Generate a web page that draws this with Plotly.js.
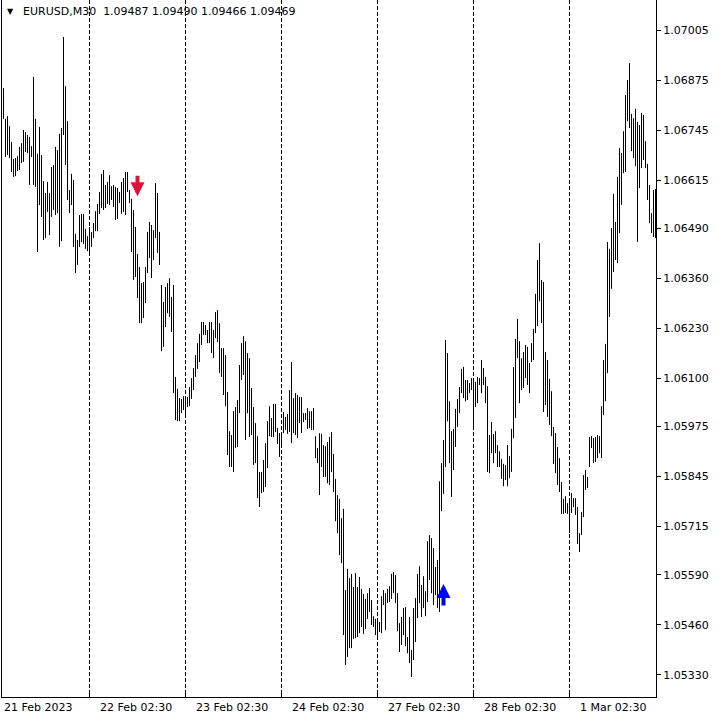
<!DOCTYPE html>
<html>
<head>
<meta charset="utf-8">
<script src="https://cdn.plot.ly/plotly-3.0.1.min.js"></script>
<style>html,body{margin:0;padding:0;background:#fff;}#chart{width:720px;height:720px;}</style>
</head>
<body>
<div id="chart"></div>
<script>
// EURUSD M30 bars (high / low), one entry per bar, left to right
const highs = [
1.06855,1.06775,1.06782,1.06756,1.06715,1.06671,1.06673,1.06678,1.06702,1.06712,
1.06746,1.06741,1.06733,1.06728,1.06704,1.06884,1.06775,1.06684,1.06754,1.06681,
1.06613,1.06582,1.06611,1.06582,1.06650,1.06655,1.06702,1.06694,1.06736,1.06751,
1.06988,1.06860,1.06769,1.06590,1.06632,1.06616,1.06476,1.06460,1.06525,1.06528,
1.06528,1.06489,1.06470,1.06494,1.06481,1.06504,1.06535,1.06554,1.06585,1.06632,
1.06642,1.06603,1.06611,1.06629,1.06600,1.06603,1.06598,1.06595,1.06585,1.06611,
1.06621,1.06637,1.06637,1.06590,1.06567,1.06538,1.06494,1.06424,1.06390,1.06348,
1.06351,1.06390,1.06481,1.06507,1.06499,1.06486,1.06608,1.06582,1.06481,1.06343,
1.06299,1.06338,1.06348,1.06361,1.06312,1.06343,1.06104,1.06073,1.06049,1.06047,
1.06054,1.06052,1.06052,1.06078,1.06101,1.06127,1.06161,1.06192,1.06216,1.06247,
1.06247,1.06239,1.06226,1.06247,1.06247,1.06226,1.06273,1.06278,1.06244,1.06179,
1.06179,1.06161,1.06065,1.05963,1.05953,1.06015,1.06026,1.06044,1.06135,1.06192,
1.06210,1.06197,1.06166,1.06153,1.06075,1.06026,1.05984,1.05950,1.05857,1.05857,
1.05888,1.05932,1.05989,1.06028,1.05997,1.06034,1.06034,1.05971,1.05958,1.05958,
1.06013,1.06000,1.06008,1.06070,1.06143,1.06049,1.06062,1.06057,1.06052,1.06052,
1.06010,1.06010,1.06023,1.06015,1.06015,1.06023,1.05950,1.05919,1.05958,1.05956,
1.05927,1.05924,1.05935,1.05948,1.05961,1.05904,1.05839,1.05797,1.05787,1.05737,
1.05761,1.05550,1.05605,1.05581,1.05592,1.05558,1.05594,1.05558,1.05584,1.05553,
1.05540,1.05527,1.05542,1.05555,1.05524,1.05482,1.05475,1.05472,1.05467,1.05534,
1.05550,1.05542,1.05553,1.05560,1.05592,1.05597,1.05589,1.05542,1.05464,1.05480,
1.05503,1.05506,1.05428,1.05480,1.05394,1.05503,1.05529,1.05592,1.05612,1.05563,
1.05586,1.05547,1.05677,1.05693,1.05685,1.05659,1.05610,1.05628,1.05833,1.05880,
1.05940,1.06200,1.06166,1.06041,1.05963,1.05969,1.06021,1.06047,1.06078,1.06125,
1.06130,1.06096,1.06096,1.06088,1.06101,1.06091,1.06091,1.06104,1.06101,1.06148,
1.06127,1.06104,1.06080,1.05953,1.05987,1.05956,1.05963,1.05927,1.05911,1.05891,
1.05878,1.05875,1.05927,1.05898,1.05969,1.06130,1.06203,1.06255,1.06197,1.06153,
1.06169,1.06187,1.06182,1.06140,1.06192,1.06229,1.06320,1.06408,1.06452,1.06356,
1.06351,1.06169,1.06148,1.06099,1.06067,1.05974,1.05958,1.05922,1.05893,1.05831,
1.05787,1.05794,1.05776,1.05787,1.05802,1.05789,1.05789,1.05766,1.05698,1.05753,
1.05849,1.05862,1.05844,1.05948,1.05950,1.05945,1.05948,1.05953,1.05950,1.06028,
1.06148,1.06190,1.06455,1.06437,1.06491,1.06580,1.06507,1.06624,1.06699,1.06686,
1.06743,1.06837,1.06876,1.06920,1.06788,1.06777,1.06801,1.06767,1.06759,1.06790,
1.06785,1.06717,1.06658,1.06603,1.06530,1.06590,1.06593
];
const lows = [
1.06775,1.06676,1.06681,1.06673,1.06637,1.06624,1.06626,1.06639,1.06642,1.06660,
1.06663,1.06689,1.06686,1.06603,1.06676,1.06603,1.06598,1.06429,1.06551,1.06520,
1.06460,1.06465,1.06533,1.06473,1.06520,1.06538,1.06525,1.06530,1.06442,1.06457,
1.06733,1.06655,1.06564,1.06530,1.06551,1.06442,1.06374,1.06395,1.06442,1.06455,
1.06450,1.06437,1.06431,1.06426,1.06442,1.06465,1.06483,1.06483,1.06528,1.06543,
1.06538,1.06543,1.06554,1.06551,1.06564,1.06546,1.06512,1.06515,1.06556,1.06528,
1.06533,1.06525,1.06585,1.06556,1.06429,1.06356,1.06364,1.06309,1.06244,1.06244,
1.06257,1.06296,1.06374,1.06413,1.06361,1.06408,1.06465,1.06426,1.06395,1.06171,
1.06182,1.06234,1.06270,1.06260,1.06221,1.06062,1.05992,1.05989,1.05989,1.06010,
1.06018,1.05997,1.06026,1.06028,1.06047,1.06070,1.06104,1.06125,1.06143,1.06187,
1.06213,1.06213,1.06192,1.06192,1.06166,1.06153,1.06205,1.06195,1.06114,1.06104,
1.06057,1.06028,1.05901,1.05870,1.05870,1.05857,1.05919,1.05922,1.06010,1.06096,
1.06109,1.05940,1.06010,1.05948,1.05953,1.05875,1.05880,1.05789,1.05766,1.05802,
1.05805,1.05818,1.05867,1.05950,1.05948,1.05948,1.05961,1.05930,1.05896,1.05922,
1.05958,1.05966,1.05956,1.05961,1.05932,1.05958,1.05953,1.05945,1.05984,1.05958,
1.05987,1.05992,1.05969,1.05971,1.05966,1.05966,1.05893,1.05880,1.05797,1.05870,
1.05844,1.05844,1.05828,1.05823,1.05857,1.05805,1.05729,1.05698,1.05641,1.05620,
1.05433,1.05355,1.05376,1.05399,1.05399,1.05423,1.05425,1.05428,1.05438,1.05454,
1.05436,1.05449,1.05475,1.05493,1.05459,1.05454,1.05433,1.05420,1.05441,1.05438,
1.05511,1.05446,1.05516,1.05519,1.05527,1.05542,1.05516,1.05443,1.05389,1.05407,
1.05433,1.05404,1.05386,1.05360,1.05324,1.05368,1.05415,1.05477,1.05516,1.05480,
1.05503,1.05482,1.05519,1.05576,1.05542,1.05511,1.05537,1.05503,1.05493,1.05755,
1.05800,1.05870,1.05989,1.05880,1.05792,1.05862,1.05922,1.05974,1.06010,1.06062,
1.06049,1.06041,1.06044,1.06062,1.06070,1.05966,1.06026,1.06036,1.06083,1.06062,
1.06083,1.06036,1.05857,1.05854,1.05906,1.05880,1.05906,1.05870,1.05870,1.05839,
1.05820,1.05836,1.05820,1.05841,1.05857,1.05945,1.05997,1.06153,1.06036,1.06070,
1.06075,1.06101,1.06083,1.06062,1.06143,1.06148,1.06218,1.06236,1.06301,1.06244,
1.06013,1.06031,1.06000,1.05979,1.05950,1.05878,1.05854,1.05823,1.05805,1.05748,
1.05748,1.05750,1.05748,1.05698,1.05750,1.05766,1.05745,1.05670,1.05649,1.05693,
1.05740,1.05810,1.05815,1.05870,1.05919,1.05880,1.05883,1.05893,1.05906,1.05893,
1.06005,1.06041,1.06114,1.06260,1.06333,1.06377,1.06408,1.06400,1.06478,1.06551,
1.06634,1.06637,1.06769,1.06751,1.06691,1.06673,1.06652,1.06455,1.06595,1.06647,
1.06668,1.06647,1.06564,1.06504,1.06478,1.06468,1.06465
];
// day starts (bar index) and the time-axis labels
const dayStartIdx = [0, 43, 91, 139, 187, 235, 283];
const dayLabels = ['21 Feb 2023', '22 Feb 02:30', '23 Feb 02:30', '24 Feb 02:30', '27 Feb 02:30', '28 Feb 02:30', '1 Mar 02:30'];
// price-axis labels
const priceTicks = [1.07005, 1.06875, 1.06745, 1.06615, 1.06490, 1.06360, 1.06230, 1.06100, 1.05975, 1.05845, 1.05715, 1.05590, 1.05460, 1.05330];
// signal arrows: bar index, price at arrow tip, direction
const signalIdx = [67, 220];
const signalPrice = [1.06574, 1.05566];
const signalDir = ['sell', 'buy'];
const headerText = 'EURUSD,M30\u00a0\u00a01.09487 1.09490 1.09466 1.09469';

// build high-low segments
const xs = [], ys = [];
for (let i = 0; i < highs.length; i++) {
  xs.push(i, i, null);
  ys.push(highs[i], lows[i], null);
}
const FONT = 'DejaVu Sans, Verdana, sans-serif';
const traces = [{
  type: 'scatter', mode: 'lines', x: xs, y: ys, connectgaps: false,
  line: {color: '#000000', width: 1}, hoverinfo: 'skip'
}];

const annotations = [];
annotations.push({xref: 'paper', yref: 'paper', x: 0, y: 1, xanchor: 'left', yanchor: 'top',
  xshift: 3, yshift: -5, text: '\u25BC', showarrow: false, font: {family: FONT, size: 8, color: '#000'}});
annotations.push({xref: 'paper', yref: 'paper', x: 0, y: 1, xanchor: 'left', yanchor: 'top',
  xshift: 19, yshift: -3, text: headerText, showarrow: false, font: {family: FONT, size: 11, color: '#000'}});
dayLabels.forEach((t, k) => {
  annotations.push({xref: 'x', yref: 'paper', x: dayStartIdx[k], y: 0, xanchor: 'left', yanchor: 'middle',
    xshift: k === 0 ? -2 : 8, yshift: -10, text: t, showarrow: false,
    font: {family: FONT, size: 11, color: '#000'}});
});
signalIdx.forEach((ix, k) => {
  const sell = signalDir[k] === 'sell';
  annotations.push({xref: 'x', yref: 'y', x: ix, y: signalPrice[k], text: '', showarrow: true,
    ax: 0, ay: sell ? -22 : 23, arrowhead: 2, arrowsize: 0.7, arrowwidth: 4, standoff: 0, startstandoff: 0,
    arrowcolor: sell ? '#DC143C' : '#0000FF'});
});

const layout = {
  width: 720, height: 720,
  margin: {l: 2, r: 64, t: 0, b: 23, pad: 0},
  paper_bgcolor: '#ffffff', plot_bgcolor: '#ffffff',
  showlegend: false,
  font: {family: FONT, size: 11, color: '#000'},
  xaxis: {
    range: [-0.75, 326.25], fixedrange: true,
    showline: true, linecolor: '#000', linewidth: 1,
    tickmode: 'array', tickvals: dayStartIdx.slice(1), ticks: 'inside', ticklen: 5, tickcolor: '#000', tickwidth: 1,
    showticklabels: false,
    showgrid: true, gridcolor: '#000', gridwidth: 1, griddash: '4px,2px', zeroline: false
  },
  yaxis: {
    side: 'right', range: [1.05272, 1.07084], fixedrange: true,
    tickmode: 'array', tickvals: priceTicks, ticktext: priceTicks.map(v => v.toFixed(5)),
    ticks: 'outside', ticklen: 4, tickcolor: '#000', tickwidth: 1,
    showline: true, linecolor: '#000', linewidth: 1, mirror: true,
    showgrid: false, zeroline: false,
    tickfont: {family: FONT, size: 11, color: '#000'}
  },
  annotations: annotations
};
Plotly.newPlot('chart', traces, layout, {staticPlot: true, displayModeBar: false});
</script>
</body>
</html>
